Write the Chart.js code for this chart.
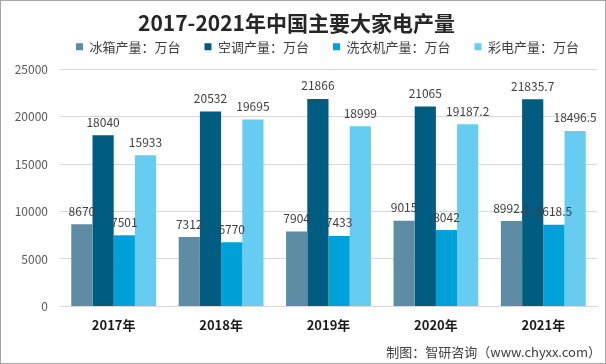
<!DOCTYPE html>
<html>
<head>
<meta charset="utf-8">
<script src="https://cdn.jsdelivr.net/npm/chart.js@4.4.0/dist/chart.umd.min.js"></script>
<style>
  html, body { margin: 0; padding: 0; background: #fff; }
  #wrap { width: 606px; height: 364px; position: relative; }
</style>
</head>
<body>
<div id="wrap"><canvas id="c" width="606" height="364"></canvas></div>
<script>
// 年份
const years = ["2017年", "2018年", "2019年", "2020年", "2021年"];
// 各类家电产量（万台）
const fridge = [8670, 7312, 7904, 9015, 8992.1];
const aircon = [18040, 20532, 21866, 21065, 21835.7];
const washer = [7501, 6770, 7433, 8042, 8618.5];
const tv = [15933, 19695, 18999, 19187.2, 18496.5];
const seriesNames = ["冰箱产量：万台", "空调产量：万台", "洗衣机产量：万台", "彩电产量：万台"];
const seriesColors = ["#5F8CA5", "#005C80", "#00A1D9", "#66CCF2"];
const yTicks = [0, 5000, 10000, 15000, 20000, 25000];

const FONT = "'Noto Sans CJK SC', 'Microsoft YaHei', sans-serif";

// 柱顶数值
const valueLabels = {
	id: "valueLabels",
	afterDatasetsDraw(chart) {
		const ctx = chart.ctx;
		ctx.save();
		ctx.font = "12px " + FONT;
		ctx.fillStyle = "#404040";
		ctx.textAlign = "center";
		ctx.textBaseline = "bottom";
		chart.data.datasets.forEach((ds, i) => {
			chart.getDatasetMeta(i).data.forEach((bar, j) => {
				ctx.fillText(String(ds.data[j]), bar.x, bar.y - 7);
			});
		});
		ctx.restore();
	},
};

// 图例下方留白，标题/图例左右微调
const legendGap = {
	id: "legendGap",
	beforeLayout(chart) {
		const lg = chart.legend;
		if (lg && !lg._gapped) {
			const fit = lg.fit;
			lg.fit = function () {
				fit.call(this);
				this.height += 6;
			};
			lg._gapped = true;
		}
	},
	afterLayout(chart) {
		if (chart.legend) {
			chart.legend.left += 24;
			chart.legend.right += 24;
		}
		if (chart.titleBlock) {
			chart.titleBlock.left -= 7;
			chart.titleBlock.right -= 7;
		}
	},
};

// 外框和来源
const frameAndSource = {
	id: "frameAndSource",
	afterDraw(chart) {
		const ctx = chart.ctx;
		ctx.save();
		ctx.strokeStyle = "#a6a6a6";
		ctx.lineWidth = 1;
		ctx.strokeRect(0.5, 0.5, chart.width - 1, chart.height - 1);
		ctx.font = "13px " + FONT;
		ctx.fillStyle = "#404040";
		ctx.textAlign = "right";
		ctx.textBaseline = "middle";
		ctx.fillText("制图：智研咨询（www.chyxx.com）", 601, 352);
		ctx.restore();
	},
};

const makeDs = (i, data) => ({
	label: seriesNames[i],
	data: data,
	backgroundColor: seriesColors[i],
	categoryPercentage: 0.79,
	barPercentage: 1,
});

new Chart(document.getElementById("c"), {
	type: "bar",
	data: {
		labels: years,
		datasets: [makeDs(0, fridge), makeDs(1, aircon), makeDs(2, washer), makeDs(3, tv)],
	},
	options: {
		responsive: false,
		animation: false,
		layout: { padding: { left: 10, right: 9, top: 0, bottom: 28 } },
		plugins: {
			title: {
				display: true,
				text: "2017-2021年中国主要大家电产量",
				color: "#262626",
				font: { family: FONT, size: 21, weight: "bold" },
				padding: { top: 10, bottom: -19 },
			},
			legend: {
				display: true,
				labels: {
					color: "#404040",
					font: { family: FONT, size: 13 },
					boxWidth: 7,
					boxHeight: 7,
					padding: 24,
				},
			},
			tooltip: { enabled: false },
		},
		scales: {
			x: {
				grid: { display: false },
				border: { display: true, color: "#d9d9d9" },
				ticks: {
					color: "#1a1a1a",
					font: { family: FONT, size: 13, weight: "bold" },
					padding: 3,
				},
			},
			y: {
				min: 0,
				max: 25000,
				afterBuildTicks(scale) {
					scale.ticks = yTicks.map((v) => ({ value: v }));
				},
				afterFit(scale) {
					scale.width = 50;
				},
				grid: { color: "#d9d9d9", drawTicks: false },
				border: { display: false },
				ticks: {
					color: "#595959",
					font: { family: FONT, size: 12 },
					padding: 12,
					callback: (v) => String(v),
				},
			},
		},
	},
	plugins: [valueLabels, legendGap, frameAndSource],
});
</script>
</body>
</html>
